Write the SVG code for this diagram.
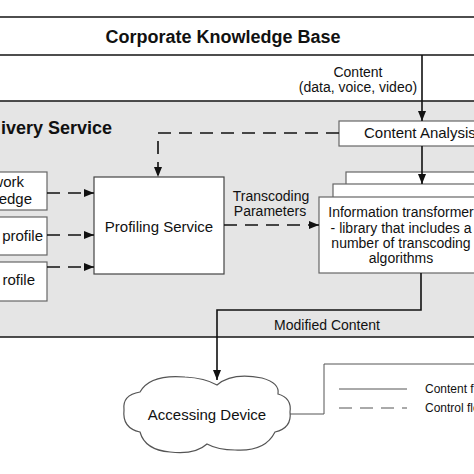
<svg xmlns="http://www.w3.org/2000/svg" width="474" height="474" viewBox="0 0 474 474">
<style>
text{font-family:"Liberation Sans",Arial,sans-serif;fill:#111}
.t15{font-size:15px}
.t14{font-size:14px}
.t12{font-size:12px}
.b{font-weight:bold;font-size:18px}
.box{fill:#fff;stroke:#666;stroke-width:1.2}
.frame{stroke:#222;stroke-width:1.6}
.solid{fill:none;stroke:#111;stroke-width:1.6}
.dash{fill:none;stroke:#111;stroke-width:1.6;stroke-dasharray:13 8}
.leg{fill:none;stroke:#555;stroke-width:1}
</style>
<defs>
<marker id="ah" viewBox="0 0 10 8" refX="10" refY="4" markerWidth="10" markerHeight="8" markerUnits="userSpaceOnUse" orient="auto">
<path d="M0,0 L10,4 L0,8 Z" fill="#111"/>
</marker>
</defs>
<rect width="474" height="474" fill="#fff"/>
<g id="corporate-kb">
<rect x="-5" y="17" width="485" height="38" fill="#fff" class="frame"/>
<text class="b" x="223" y="43" text-anchor="middle">Corporate Knowledge Base</text>
</g>
<g id="delivery-service">
<rect x="-5" y="101" width="485" height="236" fill="#e5e5e5" class="frame"/>
<text class="b" x="1" y="134">ivery Service</text>
</g>
<g id="network-knowledge">
<rect x="-10" y="172" width="57" height="38" class="box"/>
<text class="t15" x="24" y="187" text-anchor="end">work</text>
<text class="t15" x="32" y="204" text-anchor="end">edge</text>
</g>
<g id="user-profile">
<rect x="-10" y="217" width="57" height="38" class="box"/>
<text class="t15" x="43" y="241" text-anchor="end">profile</text>
</g>
<g id="device-profile">
<rect x="-10" y="262" width="57" height="39" class="box"/>
<text class="t15" x="35" y="285" text-anchor="end">rofile</text>
</g>
<g id="profiling-service">
<rect x="94" y="177" width="130" height="97" class="box" style="stroke:#444"/>
<text class="t15" x="159" y="232" text-anchor="middle">Profiling Service</text>
</g>
<g id="content-analysis">
<rect x="339" y="121" width="145" height="25" class="box"/>
<text class="t15" x="364" y="138">Content Analysis</text>
</g>
<g id="information-transformer">
<rect x="346" y="172" width="140" height="80" class="box"/>
<rect x="333" y="184" width="150" height="80" class="box"/>
<rect x="319" y="197" width="165" height="76" class="box"/>
<text class="t14" x="401" y="217" text-anchor="middle">Information transformer</text>
<text class="t14" x="401" y="233" text-anchor="middle">- library that includes a</text>
<text class="t14" x="401" y="248" text-anchor="middle">number of transcoding</text>
<text class="t14" x="401" y="263" text-anchor="middle">algorithms</text>
</g>
<g id="accessing-device">
<path d="M124,410 Q122,395 140,392 Q150,374 185,377 Q205,378 217,385 Q232,372 262,378 Q280,383 278,394 Q292,398 290,412 Q292,428 275,432 Q265,452 235,450 Q218,450 207,444 Q195,455 170,452 Q145,450 140,432 Q122,428 124,410 Z" fill="#fff" stroke="#555" stroke-width="1.2"/>
<text class="t15" x="207" y="420" text-anchor="middle">Accessing Device</text>
</g>
<g id="legend">
<polyline points="290,414 324,414 324,364 480,364" class="leg"/>
<line x1="339" y1="389" x2="407" y2="389" class="leg"/>
<line x1="339" y1="408" x2="407" y2="408" class="leg" stroke-dasharray="13 8"/>
<text class="t12" x="425" y="393">Content flow</text>
<text class="t12" x="425" y="412">Control flow</text>
</g>
<g id="connectors">
<line x1="422" y1="55" x2="422" y2="121" class="solid" marker-end="url(#ah)"/>
<line x1="422" y1="146" x2="422" y2="184" class="solid" marker-end="url(#ah)"/>
<polyline points="339,133 158,133 158,177" class="dash" marker-end="url(#ah)"/>
<line x1="47" y1="193" x2="94" y2="193" class="dash" marker-end="url(#ah)"/>
<line x1="47" y1="235" x2="94" y2="235" class="dash" marker-end="url(#ah)"/>
<line x1="47" y1="267" x2="94" y2="267" class="dash" marker-end="url(#ah)"/>
<line x1="224" y1="225" x2="319" y2="225" class="dash" marker-end="url(#ah)"/>
<polyline points="421,273 421,310 217,310 217,380" class="solid" marker-end="url(#ah)"/>
<text class="t14" x="358" y="77" text-anchor="middle">Content</text>
<text class="t14" x="358" y="92" text-anchor="middle">(data, voice, video)</text>
<text class="t14" x="271" y="201" text-anchor="middle">Transcoding</text>
<text class="t14" x="270" y="216" text-anchor="middle">Parameters</text>
<text class="t14" x="327" y="330" text-anchor="middle">Modified Content</text>
</g>
</svg>
